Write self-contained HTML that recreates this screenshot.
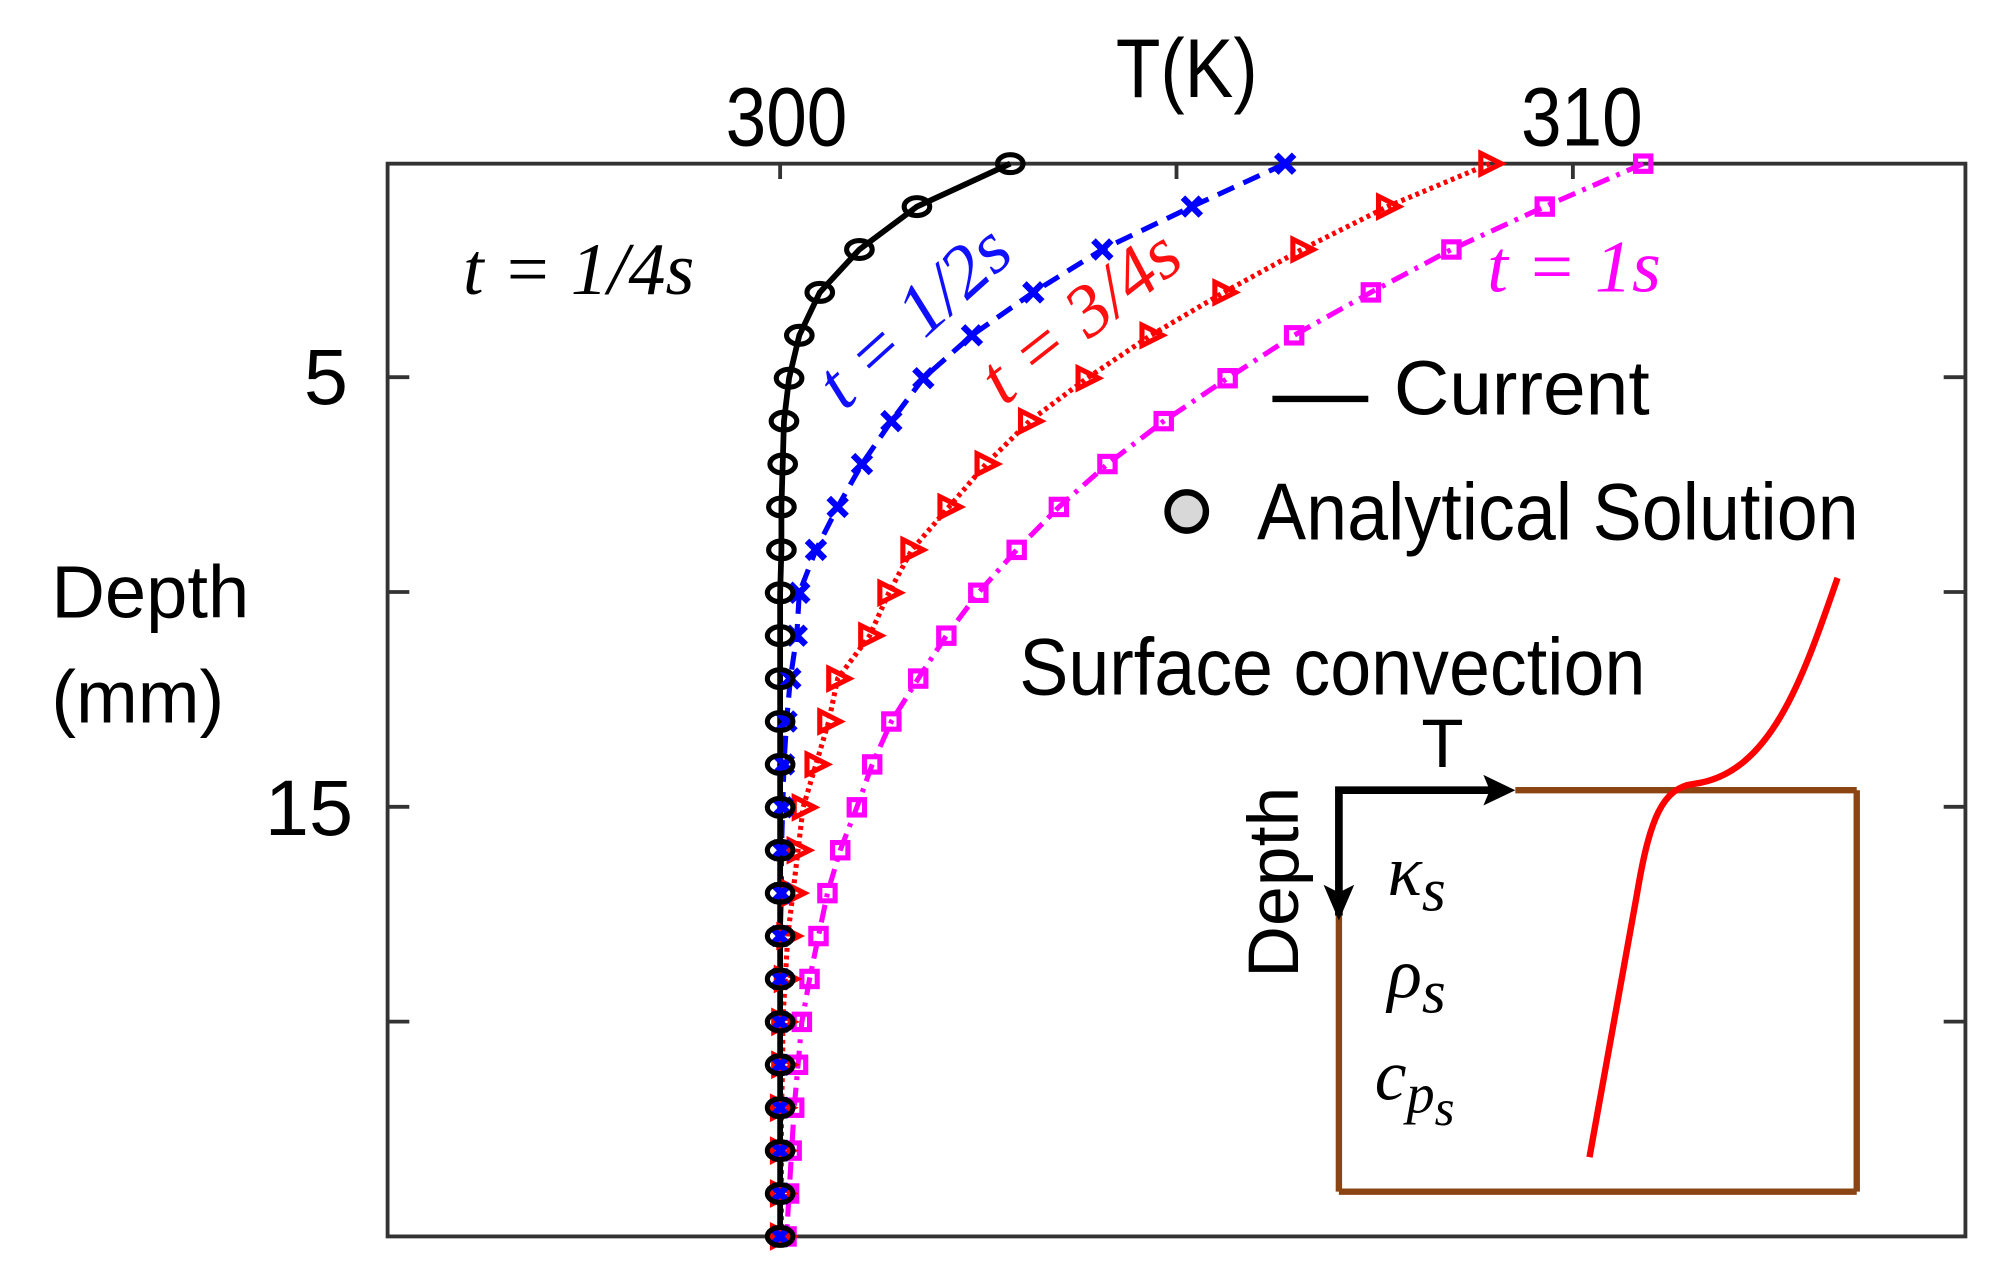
<!DOCTYPE html>
<html><head><meta charset="utf-8"><style>
html,body{margin:0;padding:0;background:#fff;}
svg{display:block;}
text{font-family:"Liberation Sans",sans-serif;}
.m{font-family:"Liberation Serif",serif;font-style:italic;}
</style></head><body>
<svg id="s" width="1995" height="1262" viewBox="0 0 1560 987" xmlns="http://www.w3.org/2000/svg">
<rect x="0" y="0" width="1560" height="987" fill="#fff"/>
<rect x="303" y="128" width="1234" height="839" fill="none" stroke="#333" stroke-width="3"/>
<g stroke="#333" stroke-width="3">
<line x1="610" y1="128" x2="610" y2="140"/><line x1="920" y1="128" x2="920" y2="140"/><line x1="1230" y1="128" x2="1230" y2="140"/>
<line x1="303" y1="295" x2="320" y2="295"/><line x1="303" y1="463" x2="320" y2="463"/><line x1="303" y1="631" x2="320" y2="631"/><line x1="303" y1="799" x2="320" y2="799"/>
<line x1="1520" y1="295" x2="1537" y2="295"/><line x1="1520" y1="463" x2="1537" y2="463"/><line x1="1520" y1="631" x2="1537" y2="631"/><line x1="1520" y1="799" x2="1537" y2="799"/>
</g>
<text x="615" y="114" font-size="62" text-anchor="middle" transform="translate(615,114) scale(0.92,1.05) translate(-615,-114)">300</text>
<text x="1237" y="114" font-size="62" text-anchor="middle" transform="translate(1237,114) scale(0.92,1.05) translate(-1237,-114)">310</text>
<text x="928" y="76" font-size="62" text-anchor="middle" transform="translate(928,76) scale(0.92,1.05) translate(-928,-76)">T(K)</text>
<text x="272" y="316" font-size="62" text-anchor="end">5</text>
<text x="276" y="653" font-size="62" text-anchor="end">15</text>
<text x="40" y="483" font-size="58">Depth</text>
<text x="40" y="565" font-size="58">(mm)</text>
<g id="curves"></g>
<text class="m" x="362" y="230" font-size="58">t = 1/4s</text>
<text class="m" x="0" y="0" font-size="58" fill="#1010ff" transform="translate(660,322) rotate(-42)">t = 1/2s</text>
<text class="m" x="0" y="0" font-size="58" fill="#ff1010" transform="translate(785,318) rotate(-38)">t = 3/4s</text>
<text class="m" x="1163" y="228" font-size="58" fill="#ff00ff">t = 1s</text>
<line x1="995" y1="312" x2="1070" y2="312" stroke="#000" stroke-width="5"/>
<text x="1090" y="324" font-size="60">Current</text>
<circle cx="928" cy="400" r="15" fill="#d8d8d8" stroke="#000" stroke-width="5"/>
<text x="983" y="422" font-size="60" transform="translate(983,422) scale(0.96,1.05) translate(-983,-422)">Analytical Solution</text>
<text x="797" y="543" font-size="60" transform="translate(797,543) scale(0.96,1.05) translate(-797,-543)">Surface convection</text>
<g stroke="#8b4513" stroke-width="5" fill="none">
<line x1="1185" y1="618" x2="1452" y2="618"/>
<line x1="1452" y1="618" x2="1452" y2="932"/>
<line x1="1047" y1="932" x2="1452" y2="932"/>
<line x1="1047" y1="715" x2="1047" y2="932"/>
</g>
<path d="M1047,716 L1047,618 L1172,618" stroke="#000" stroke-width="6" fill="none"/>
<path d="M1185,618 L1160,606 L1165,618 L1160,630 Z" fill="#000"/>
<path d="M1047,720 L1035,692 L1047,698 L1059,692 Z" fill="#000"/>
<text x="1128" y="600" font-size="54" text-anchor="middle">T</text>
<text x="0" y="0" font-size="56" text-anchor="middle" transform="translate(1015,690) rotate(-90)">Depth</text>
<text class="m" x="1085" y="700" font-size="56">κ<tspan font-size="48" dy="12">s</tspan></text>
<text class="m" x="1085" y="780" font-size="56">ρ<tspan font-size="48" dy="12">s</tspan></text>
<text class="m" x="1075" y="860" font-size="56">c<tspan font-size="44" dy="10">p</tspan><tspan font-size="40" dy="10">s</tspan></text>
<path d="M1437,452 C1410,530 1385,605 1325,613 C1300,616 1290,640 1280,700 L1243,905" stroke="#ff0000" stroke-width="5" fill="none"/>
</svg>
<script>
var NS="http://www.w3.org/2000/svg",g=document.getElementById("curves");
function y(i){return 128+33.56*i;}
var K=[790,717,672,641,625,617,613,612,611,611,610,610,610,610,610,610,610,610,610,610,610,610,610,610,610,610];
var B=[1005,932,862,808,760,722,697,674,655,638,625,623,618,615,613,612,611,611,610,610,610,610,610,610,610,610];
var R=[1165,1085,1018,957,900,850,805,771,742,713,695,680,655,648,638,628,624,620,616,614,612,612,611,611,611,611];
var M=[1285,1208,1135,1072,1012,960,910,866,828,795,765,740,718,697,682,670,657,647,640,633,627,624,621,619,617,615];
function line(a,col,dash){var p=document.createElementNS(NS,"polyline");p.setAttribute("points",a.map(function(x,i){return x+","+y(i)}).join(" "));p.setAttribute("fill","none");p.setAttribute("stroke",col);p.setAttribute("stroke-width",dash?4:4.5);if(dash)p.setAttribute("stroke-dasharray",dash);g.appendChild(p);}
function el(t,at){var e=document.createElementNS(NS,t);for(var k in at)e.setAttribute(k,at[k]);g.appendChild(e);}
line(M,"#ff00ff","14 6 3 6");
line(R,"#ff0000","3 3");
line(B,"#0000ff","14 8");
line(K,"#000",null);
M.forEach(function(x,i){el("rect",{x:x-6,y:y(i)-6,width:12,height:12,fill:"none",stroke:"#ff00ff","stroke-width":4});});
R.forEach(function(x,i){var Y=y(i);el("path",{d:"M"+(x+9)+","+Y+" L"+(x-7)+","+(Y-8)+" L"+(x-7)+","+(Y+8)+" Z",fill:"none",stroke:"#ff0000","stroke-width":4});});
B.forEach(function(x,i){var Y=y(i);el("path",{d:"M"+(x-7)+","+(Y-7)+" L"+(x+7)+","+(Y+7)+" M"+(x+7)+","+(Y-7)+" L"+(x-7)+","+(Y+7),stroke:"#0000ff","stroke-width":5});});
K.forEach(function(x,i){el("ellipse",{cx:x,cy:y(i),rx:10,ry:7,fill:"none",stroke:"#000","stroke-width":4});});
</script>
</body></html>
